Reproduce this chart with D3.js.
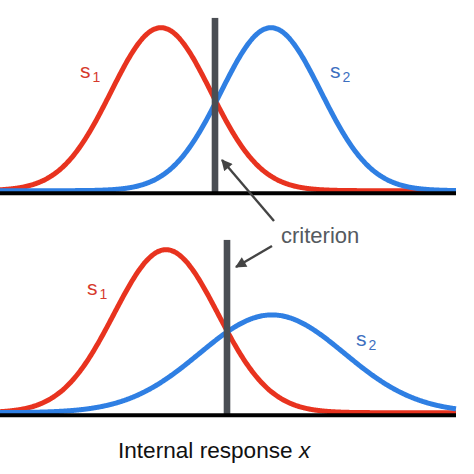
<!DOCTYPE html>
<html>
<head>
<meta charset="utf-8">
<script src="https://cdn.jsdelivr.net/npm/d3@7"></script>
<style>
  html, body { margin: 0; padding: 0; background: #fff; }
  svg { display: block; }
  text { font-family: "Liberation Sans", Arial, Helvetica, sans-serif; }
</style>
</head>
<body>
<svg id="chart" width="474" height="474"></svg>
<script>
// ---- data (units: internal response in d' units, heights relative to s1 peak) ----
const panels = ["equal variance", "unequal variance"];
const s1Mean = [0.0, 0.1];
const s1Sd = [1.0, 1.04];
const s1Peak = [1.0, 1.0];
const s2Mean = [2.2, 2.22];
const s2Sd = [1.0, 1.45];
const s2Peak = [1.0, 0.6];
const criterion = [1.08, 1.32];
const criterionHeight = 1.06;
const seriesNames = ["s", "s"];
const seriesSubs = ["1", "2"];
const annotationText = "criterion";
const axisTitle = "Internal response";
const axisVar = "x";

// ---- layout ----
const svg = d3.select("#chart");
const xScale = d3.scaleLinear().domain([-3.22, 5.9]).range([0, 456]);
const axisY = [193.3, 415.3];
const yScales = axisY.map(a => d3.scaleLinear().domain([0, 1]).range([a - 2.6, a - 2.6 - 163]));

const red = "#e8331f", blue = "#2f7fe3";
const redLbl = "#d63a2c", blueLbl = "#3d6fbf";
const grey = "#4a4e54";

const xs = d3.range(-3.22, 5.9001, 0.02);
const gauss = (m, s, p) => x => p * Math.exp(-((x - m) ** 2) / (2 * s * s));

svg.append("defs").append("marker")
  .attr("id", "arrow").attr("viewBox", "0 0 10 10")
  .attr("refX", 9).attr("refY", 5)
  .attr("markerWidth", 5.2).attr("markerHeight", 4.6)
  .attr("markerUnits", "strokeWidth")
  .attr("orient", "auto")
  .append("path").attr("d", "M0,0 L10,5 L0,10 Z").attr("fill", "#444");

const labelPos = [
  [{x: -1.62, y: 0.69}, {x: 3.38, y: 0.69}],
  [{x: -1.48, y: 0.72}, {x: 3.9, y: 0.41}]
];

panels.forEach((p, i) => {
  const y = yScales[i];
  const g = svg.append("g");
  const line = d3.line().x(d => xScale(d[0])).y(d => y(d[1])).curve(d3.curveBasis);
  const f1 = gauss(s1Mean[i], s1Sd[i], s1Peak[i]);
  const f2 = gauss(s2Mean[i], s2Sd[i], s2Peak[i]);
  g.append("path").datum(xs.map(x => [x, f1(x)]))
    .attr("d", line).attr("fill", "none").attr("stroke", red).attr("stroke-width", 5);
  g.append("path").datum(xs.map(x => [x, f2(x)]))
    .attr("d", line).attr("fill", "none").attr("stroke", blue).attr("stroke-width", 5);
  // criterion bar
  g.append("rect")
    .attr("x", xScale(criterion[i]) - 3.3)
    .attr("width", 6.6)
    .attr("y", y(criterionHeight))
    .attr("height", axisY[i] - y(criterionHeight))
    .attr("fill", grey);
  // baseline
  g.append("line")
    .attr("x1", xScale(-3.22)).attr("x2", xScale(5.9))
    .attr("y1", axisY[i]).attr("y2", axisY[i])
    .attr("stroke", "#000").attr("stroke-width", 4);
  // labels
  [0, 1].forEach(k => {
    const lp = labelPos[i][k];
    const t = g.append("text")
      .attr("x", xScale(lp.x)).attr("y", y(lp.y))
      .attr("fill", k === 0 ? redLbl : blueLbl)
      .attr("font-size", 21);
    t.append("tspan").text(seriesNames[k]);
    t.append("tspan").attr("dx", 2).attr("dy", 4).attr("font-size", 14).text(seriesSubs[k]);
  });
});

// criterion annotation
svg.append("text")
  .attr("x", 281).attr("y", 242.5)
  .attr("font-size", 22).attr("fill", "#555a60")
  .text(annotationText);

const arrows = [
  {from: [274, 221], to: [xScale(criterion[0]) + 7, 160]},
  {from: [272, 246], to: [xScale(criterion[1]) + 9, 267]}
];
arrows.forEach(a => {
  svg.append("line")
    .attr("x1", a.from[0]).attr("y1", a.from[1])
    .attr("x2", a.to[0]).attr("y2", a.to[1])
    .attr("stroke", "#444").attr("stroke-width", 2.4)
    .attr("marker-end", "url(#arrow)");
});

// axis title
const at = svg.append("text")
  .attr("x", 118).attr("y", 458)
  .attr("font-size", 22.6).attr("fill", "#111");
at.append("tspan").text(axisTitle + " ");
at.append("tspan").attr("font-style", "italic").text(axisVar);
</script>
</body>
</html>
